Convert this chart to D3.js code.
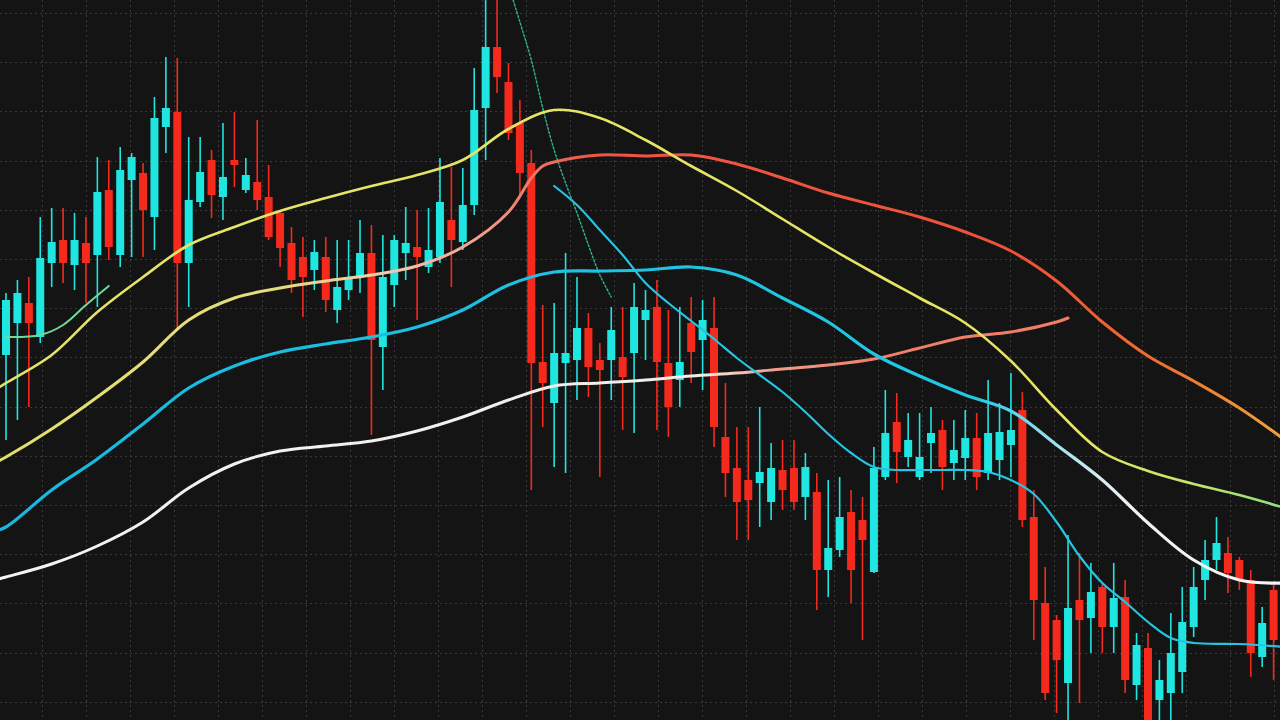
<!DOCTYPE html>
<html><head><meta charset="utf-8">
<script src="https://cdn.jsdelivr.net/npm/d3@7"></script>
<style>html,body{margin:0;padding:0;background:#141414;overflow:hidden}</style>
</head><body><svg id="chart" width="1280" height="720"></svg>
<script>
// ---- candle data (price units) ----
const open = [36.5,39.7,41.7,38.3,45.7,48.0,45.5,47.7,46.5,53.0,
46.5,54.0,54.7,50.3,59.3,60.8,45.7,51.8,56.0,52.3,
56.0,53.0,53.8,52.3,50.7,47.7,46.3,45.0,46.3,41.0,
43.0,44.3,46.7,37.3,43.5,46.7,47.3,45.3,46.3,50.0,
47.8,51.5,61.2,67.3,63.8,59.7,55.7,35.8,31.7,35.7,
36.0,39.2,36.0,36.0,36.3,36.7,40.0,41.3,35.7,34.0,
39.7,38.0,39.2,28.3,25.2,24.0,23.7,21.8,25.0,25.2,
22.3,22.8,15.0,17.0,20.8,20.0,14.8,24.3,29.8,26.3,
24.3,27.7,29.0,25.7,26.2,28.2,24.7,26.0,27.5,31.0,
20.3,11.7,10.0,3.7,12.0,10.2,13.3,9.3,12.3,3.5,
7.2,2.0,2.7,4.8,9.3,14.0,16.0,16.7,16.0,14.0,
6.3,13.0];
const high = [42.7,44.0,44.3,50.3,51.2,51.2,50.7,50.3,56.3,56.0,
57.3,56.7,55.7,62.3,66.3,66.2,58.3,58.3,57.0,59.7,
60.8,56.2,60.0,55.5,51.0,49.3,48.3,48.0,48.3,48.0,
48.0,50.0,49.5,48.5,48.5,51.3,51.0,51.2,56.2,55.3,
55.2,65.2,72.5,72.5,65.7,62.0,57.0,41.5,41.7,46.7,
44.3,40.7,37.7,41.3,41.3,43.7,43.0,44.0,41.0,41.3,
42.3,42.0,42.3,33.7,29.3,29.3,31.3,27.7,28.0,28.0,
26.7,24.7,24.0,24.3,23.0,22.3,27.3,33.0,32.7,30.7,
30.7,31.3,30.0,30.0,31.0,30.7,34.0,31.7,34.7,32.8,
23.0,15.3,10.5,18.5,16.7,15.7,13.7,15.7,14.0,8.7,
8.7,6.0,10.7,13.3,15.3,18.0,20.3,18.3,16.3,15.0,
11.3,13.5];
const low = [28.0,30.0,31.3,37.7,43.3,43.7,43.0,41.7,41.3,46.0,
45.3,46.3,46.3,47.0,56.7,39.0,41.3,51.3,50.2,50.0,
53.3,52.7,51.0,48.0,45.3,42.7,40.3,43.0,40.8,39.7,
42.0,42.7,28.5,33.0,41.3,44.0,40.0,44.7,45.7,43.3,
47.0,50.5,56.0,62.7,58.0,52.3,23.0,29.3,25.3,24.7,
32.0,32.3,24.3,32.0,29.0,28.7,36.0,29.0,28.3,31.3,
33.7,33.0,27.3,22.3,18.0,18.0,19.3,20.0,21.0,21.0,
20.0,11.0,12.3,16.3,11.7,8.0,14.7,24.0,23.7,25.3,
24.0,24.7,23.0,24.0,24.0,23.0,24.0,24.0,24.3,19.3,
8.0,2.0,0.7,-0.5,1.7,6.7,6.7,6.7,2.7,2.0,
-0.5,-0.5,-0.5,2.7,8.3,12.0,15.0,12.7,13.0,4.3,
5.3,4.0];
const close = [42.0,42.7,39.7,46.2,47.8,45.7,48.0,45.7,52.8,47.3,
55.0,56.3,51.0,60.2,61.2,45.7,52.0,54.8,52.5,54.3,
55.5,54.5,52.0,48.3,47.2,44.0,44.3,46.8,42.0,43.3,
44.3,46.7,38.0,44.3,48.0,47.7,46.3,47.0,51.8,48.0,
51.5,61.0,67.3,64.3,58.7,54.7,35.7,33.7,36.7,36.7,
39.2,35.3,35.0,39.0,34.3,41.3,41.0,35.8,31.3,35.8,
36.8,40.0,29.3,24.7,21.8,22.0,24.8,25.2,23.0,21.8,
25.3,15.0,17.2,20.3,15.0,18.0,25.2,28.7,26.8,28.0,
26.3,28.7,25.3,27.0,28.2,24.3,28.7,28.8,29.0,20.0,
12.0,2.7,6.0,11.2,10.0,12.8,9.3,12.2,4.0,7.5,
0.0,4.0,6.7,9.8,13.3,16.0,17.7,14.7,14.0,6.7,
9.7,8.0];

// ---- moving-average lines (candle index, value) ----
const yellowIdx = [-1,0,4,8,12,16,20,24,28,32,36,40,44,48,52,56,60,64,68,72,76,80,84,88,92,96,100,104,108,112];
const yellowVal = [33.0,33.7,36.5,40.8,44.3,47.5,49.3,50.9,52.2,53.4,54.5,56.0,59.1,61.0,60.2,58.0,55.4,52.9,50.1,47.3,44.7,42.2,39.7,35.9,31.0,26.8,24.9,23.6,22.5,21.2];
const redIdx = [-1,0,4,8,12,16,20,24,28,32,36,40,44,46,47,48,52,56,60,64,68,72,76,80,84,88,92,96,100,104,108,112];
const redVal = [25.7,26.3,29.1,32.3,35.8,40.0,42.2,43.2,43.9,44.5,45.4,47.3,50.8,54.2,55.4,55.8,56.5,56.4,56.5,55.6,54.2,52.7,51.5,50.3,48.8,46.9,43.9,39.8,36.4,33.9,31.2,28.0];
const cyanIdx = [-1,0,4,8,12,16,20,24,28,32,36,40,44,48,52,56,60,64,68,72,76,80,84,88,92,96,100,104,108,112];
const cyanVal = [18.9,19.3,23.0,26.1,29.6,33.2,35.4,36.8,37.6,38.3,39.3,41.0,43.5,44.8,44.9,45.0,45.3,44.5,42.2,39.8,36.6,34.4,32.5,30.9,27.5,24.0,19.7,16.0,14.0,13.7];
const whiteIdx = [-1,0,4,8,12,16,20,24,28,32,36,40,44,48,52,56,60,64,68,72,76,80,84,88,92,93];
const whiteVal = [14.0,14.3,15.6,17.4,19.8,23.2,25.6,26.9,27.4,27.9,28.9,30.3,32.0,33.4,33.7,34.0,34.4,34.7,35.1,35.5,36.1,37.2,38.3,38.8,39.8,40.2];
const thinIdx = [48,50,52,54,56,58,60,62,64,66,68,70,72,74,76,78,80,82,84,86,88,90,92,94,96,98,100,102,104,108,112];
const thinVal = [53.4,51.5,49.0,46.5,43.7,41.7,39.9,38.1,36.2,34.5,32.8,30.8,28.6,26.7,25.3,25.0,25.0,25.0,25.0,24.8,24.0,22.6,19.8,16.4,13.7,11.8,9.8,8.2,7.7,7.6,7.3];
const dotIdx = [44,45,46,47,48,49,50,51,52,53];
const dotVal = [73.5,69.8,66.0,61.2,57.0,53.7,50.7,47.5,44.5,42.3];
const greenIdx = [0,3,5,7,9];
const greenVal = [38.3,38.5,39.5,41.5,43.4];

const W = 1280, H = 720;
const svg = d3.select("#chart");
svg.append("rect").attr("width", W).attr("height", H).attr("fill", "#141414");

const x = d3.scaleLinear().domain([0, open.length - 1]).range([6, 1273.6]);
const y = d3.scaleLinear().domain([0, 72]).range([H, 0]);

// grid
const grid = svg.append("g").attr("stroke", "#3a3a3a").attr("stroke-width", 1).attr("stroke-dasharray", "2,3");
d3.range(-2, W + 1, 44).forEach(gx => grid.append("line").attr("x1", gx + 0.5).attr("x2", gx + 0.5).attr("y1", 0).attr("y2", H));
d3.range(13, H, 49.2).forEach(gy => grid.append("line").attr("y1", Math.round(gy) + 0.5).attr("y2", Math.round(gy) + 0.5).attr("x1", 0).attr("x2", W));

// gradients
const defs = svg.append("defs");
function grad(id, stops) {
  const g = defs.append("linearGradient").attr("id", id).attr("gradientUnits", "userSpaceOnUse")
    .attr("x1", 0).attr("x2", W).attr("y1", 0).attr("y2", 0);
  stops.forEach(s => g.append("stop").attr("offset", s[0]).attr("stop-color", s[1]));
}
grad("gYellow", [[0, "#e2e46a"], [0.85, "#e6e462"], [0.93, "#c6e46a"], [1, "#8ee07c"]]);
grad("gRed", [[0, "#e0e06e"], [0.22, "#e6dc7e"], [0.3, "#f0cbb0"], [0.37, "#f0a494"], [0.41, "#f07c6a"], [0.46, "#ef5646"], [0.8, "#ee5238"], [0.9, "#f06c30"], [1, "#f0a03a"]]);
grad("gCyan", [[0, "#18b8e0"], [0.76, "#22c8e2"], [0.83, "#a8e4ec"], [0.88, "#f2f2f2"], [1, "#f4f4f4"]]);
grad("gWhite", [[0, "#f4f4f4"], [0.55, "#f2ece8"], [0.6, "#f0a090"], [0.68, "#f08068"], [1, "#f07a5e"]]);

// candles
const UP = "#1fe6e0", DOWN = "#f52a1c";
const idx = d3.range(open.length);
const cg = svg.append("g");
cg.selectAll("line.wick").data(idx).join("line")
  .attr("x1", i => x(i)).attr("x2", i => x(i))
  .attr("y1", i => y(high[i])).attr("y2", i => y(low[i]))
  .attr("stroke", i => close[i] >= open[i] ? UP : DOWN).attr("stroke-width", 1.6);
cg.selectAll("rect.body").data(idx).join("rect")
  .attr("x", i => x(i) - 4).attr("width", 8)
  .attr("y", i => y(Math.max(open[i], close[i])))
  .attr("height", i => Math.max(2, Math.abs(y(open[i]) - y(close[i]))))
  .attr("fill", i => close[i] >= open[i] ? UP : DOWN);

// lines
const line = d3.line().x(d => x(d[0])).y(d => y(d[1])).curve(d3.curveCatmullRom.alpha(0.5));
function drawLine(ix, vals, stroke, width, dash) {
  const p = svg.append("path").datum(ix.map((v, k) => [v, vals[k]]))
    .attr("d", line).attr("fill", "none").attr("stroke", stroke)
    .attr("stroke-width", width).attr("stroke-linecap", "round");
  if (dash) p.attr("stroke-dasharray", dash);
}
drawLine(dotIdx, dotVal, "#2fb58c", 1.4, "2,2");
drawLine(greenIdx, greenVal, "#6fd89a", 2);
drawLine(whiteIdx, whiteVal, "url(#gWhite)", 3);
drawLine(cyanIdx, cyanVal, "url(#gCyan)", 3.2);
drawLine(thinIdx, thinVal, "#26c4e2", 2.2);
drawLine(redIdx, redVal, "url(#gRed)", 3);
drawLine(yellowIdx, yellowVal, "url(#gYellow)", 2.6);
</script></body></html>
